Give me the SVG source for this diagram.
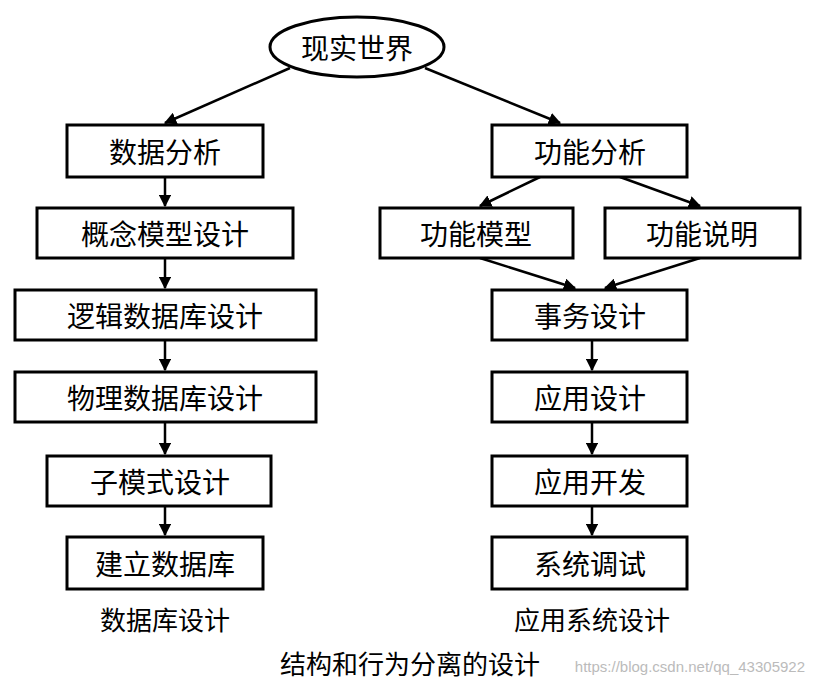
<svg xmlns="http://www.w3.org/2000/svg" width="817" height="688" viewBox="0 0 817 688">
<defs><marker id="a" viewBox="0 0 10 10" refX="9" refY="5" markerWidth="5" markerHeight="5" orient="auto"><path d="M0,0L10,5L0,10z" fill="#000"/></marker></defs>
<style>
.b{fill:#fff;stroke:#000;stroke-width:3}
.t{font-family:"Noto Sans CJK SC",sans-serif;font-size:28px;text-anchor:middle;dominant-baseline:central;fill:#000}
.c line{stroke:#000;stroke-width:2.5;marker-end:url(#a)}
</style>
<rect width="817" height="688" fill="#fff"/>
<g class="c">
<line x1="290" y1="68" x2="165" y2="123"/><line x1="425" y1="68" x2="560" y2="123"/>
<line x1="165" y1="177" x2="165" y2="206"/><line x1="165" y1="258" x2="165" y2="288"/>
<line x1="165" y1="340" x2="165" y2="370"/><line x1="165" y1="422" x2="165" y2="454"/>
<line x1="165" y1="506" x2="165" y2="535"/>
<line x1="540" y1="177" x2="480" y2="206"/><line x1="620" y1="177" x2="700" y2="206"/>
<line x1="480" y1="258" x2="575" y2="288"/><line x1="700" y1="258" x2="605" y2="288"/>
<line x1="592" y1="340" x2="592" y2="370"/><line x1="592" y1="422" x2="592" y2="454"/>
<line x1="592" y1="506" x2="592" y2="535"/>
</g>
<g id="n0"><ellipse class="b" cx="357" cy="47" rx="87" ry="30"/><text class="t" x="357" y="47">现实世界</text></g>
<g id="n1"><rect class="b" x="67" y="125" width="196" height="52"/><text class="t" x="165" y="151">数据分析</text></g>
<g id="n2"><rect class="b" x="37" y="208" width="256" height="50"/><text class="t" x="165" y="233">概念模型设计</text></g>
<g id="n3"><rect class="b" x="15" y="290" width="301" height="50"/><text class="t" x="165" y="315">逻辑数据库设计</text></g>
<g id="n4"><rect class="b" x="15" y="372" width="301" height="50"/><text class="t" x="165" y="397">物理数据库设计</text></g>
<g id="n5"><rect class="b" x="47" y="456" width="224" height="50"/><text class="t" x="160" y="481">子模式设计</text></g>
<g id="n6"><rect class="b" x="67" y="537" width="196" height="52"/><text class="t" x="165" y="563">建立数据库</text></g>
<g id="n7"><rect class="b" x="492" y="125" width="195" height="52"/><text class="t" x="590" y="151">功能分析</text></g>
<g id="n8"><rect class="b" x="380" y="208" width="193" height="50"/><text class="t" x="476" y="233">功能模型</text></g>
<g id="n9"><rect class="b" x="605" y="208" width="195" height="50"/><text class="t" x="702" y="233">功能说明</text></g>
<g id="n10"><rect class="b" x="492" y="290" width="195" height="50"/><text class="t" x="590" y="315">事务设计</text></g>
<g id="n11"><rect class="b" x="492" y="372" width="195" height="50"/><text class="t" x="590" y="397">应用设计</text></g>
<g id="n12"><rect class="b" x="492" y="456" width="195" height="50"/><text class="t" x="590" y="481">应用开发</text></g>
<g id="n13"><rect class="b" x="492" y="537" width="195" height="52"/><text class="t" x="590" y="563">系统调试</text></g>
<text class="t" x="165" y="618" style="font-size:26px">数据库设计</text>
<text class="t" x="592" y="618" style="font-size:26px">应用系统设计</text>
<text class="t" x="410" y="662" style="font-size:26px">结构和行为分离的设计</text>
<text x="805" y="672" style="font-family:'Liberation Sans',sans-serif;font-size:15px;text-anchor:end;fill:#bbb">https://blog.csdn.net/qq_43305922</text>
</svg>
